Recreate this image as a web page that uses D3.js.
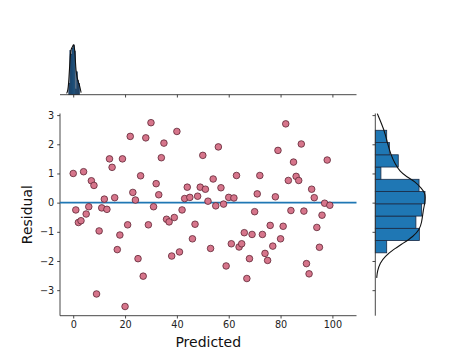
<!DOCTYPE html>
<html><head><meta charset="utf-8">
<script src="https://cdn.jsdelivr.net/npm/d3@7"></script>
<style>body{margin:0;background:#fff}svg{display:block}text{font-family:"DejaVu Sans",sans-serif}</style>
</head><body><svg id="c" width="474" height="355"></svg>
<script>
const predicted = [0,1,2,3,4,5,6,7,8,9,10,11,12,13,14,15,16,17,18,19,20,21,22,23,24,25,26,27,28,29,30,31,32,33,34,35,36,37,38,39,40,41,42,43,44,45,46,47,48,49,50,51,52,53,54,55,56,57,58,59,60,61,62,63,64,65,66,67,68,69,70,71,72,73,74,75,76,77,78,79,80,81,82,83,84,85,86,87,88,89,90,91,92,93,94,95,96,97,98,99];
const residual = [1.0,-0.25,-0.68,-0.62,1.06,-0.39,-0.14,0.75,0.59,-3.13,-0.97,-0.18,0.12,-0.23,1.5,1.21,0.17,-1.61,-1.11,1.5,-3.56,-0.76,2.27,0.35,0.09,-1.92,0.92,-2.52,2.22,-0.76,2.74,-0.14,0.65,0.27,1.54,2.04,-0.57,-0.66,-1.83,-0.51,2.44,-1.69,-0.25,0.14,0.53,0.18,-1.24,-0.74,0.22,0.53,1.62,0.46,0.05,-1.57,0.81,-0.11,1.91,0.51,-0.05,-2.17,0.18,-1.41,0.16,0.93,-1.52,-1.41,-1.03,-2.6,-1.92,-1.09,-0.31,0.3,0.93,-1.09,-1.74,-1.98,-0.78,-1.49,0.2,1.79,-1.24,-0.81,2.7,0.76,-0.27,1.39,0.9,0.76,2.01,-0.29,-2.09,-2.44,0.46,0.17,-0.85,-1.53,-0.43,-0.02,1.46,-0.09];
const binEdges = [-1.72,-1.30,-0.88,-0.46,-0.04,0.38,0.80,1.22,1.64,2.06,2.48];
const binDensity = [0.073,0.282,0.260,0.297,0.318,0.280,0.036,0.147,0.090,0.073];
const kdeValue = [-2.58,-2.35,-2.07,-1.84,-1.61,-1.39,-1.16,-0.93,-0.70,-0.25,-0.01,0.19,0.32,0.49,0.72,0.89,1.06,1.34,1.63,2.06,2.48,3.05];
const kdeDensity = [0.009,0.013,0.030,0.062,0.115,0.179,0.243,0.282,0.297,0.307,0.318,0.320,0.318,0.297,0.254,0.201,0.158,0.126,0.100,0.077,0.058,0.013];
const xTicks = [0,20,40,60,80,100];
const yTicks = [-3,-2,-1,0,1,2,3];

const svg = d3.select("#c");
const L=60, R=356.5, T=113.5, B=315.7;
const x = d3.scaleLinear().domain([-5.1,109.3]).range([L,R]);
const y = d3.scaleLinear().domain([-3.875,3.055]).range([B,T]);
const dens = d3.scaleLinear().domain([0,0.34]).range([0,53.1]);
const RX0 = 375.3, TY0 = 94.7;
const fmt = d => d<0 ? "\u2212"+Math.abs(d) : String(d);
const spine = "#333";

// main axes
const gx = svg.append("g").attr("transform",`translate(0,${B})`)
  .call(d3.axisBottom(x).tickValues(xTicks).tickSize(2.8).tickPadding(3).tickFormat(fmt));
const gy = svg.append("g").attr("transform",`translate(${L},0)`)
  .call(d3.axisLeft(y).tickValues(yTicks).tickSize(2.8).tickPadding(3).tickFormat(fmt));
[gx,gy].forEach(g=>{
  g.select(".domain").attr("stroke",spine).attr("stroke-width",0.9).attr("d", g===gx?`M${L},0H${R}`:`M0,${T}V${B}`);
  g.selectAll(".tick line").attr("stroke",spine).attr("stroke-width",0.9);
  g.selectAll(".tick text").attr("fill","#222").style("font-size","9.7px").style("font-family","DejaVu Sans");
});

svg.append("line").attr("x1",L).attr("x2",R).attr("y1",y(0)).attr("y2",y(0))
  .attr("stroke","#1f77b4").attr("stroke-width",1.8);

svg.append("g").selectAll("circle").data(predicted).join("circle")
  .attr("cx",d=>x(d)).attr("cy",(d,i)=>y(residual[i])).attr("r",3.3)
  .attr("fill","#d6758b").attr("stroke","#5e2433").attr("stroke-width",0.8);

svg.append("text").attr("x",(L+R)/2).attr("y",347).attr("text-anchor","middle")
  .style("font-size","14px").attr("fill","#111").text("Predicted");
svg.append("text").attr("transform",`translate(31.5,${(T+B)/2}) rotate(-90)`).attr("text-anchor","middle")
  .style("font-size","14px").attr("fill","#111").text("Residual");

// right marginal
const rg = svg.append("g");
rg.selectAll("rect").data(binDensity).join("rect")
  .attr("x",RX0).attr("y",(d,i)=>y(binEdges[i+1])).attr("width",d=>dens(d))
  .attr("height",(d,i)=>y(binEdges[i])-y(binEdges[i+1]))
  .attr("fill","#1f77b4").attr("stroke","#1a2a44").attr("stroke-width",0.8);
rg.append("path").datum(kdeValue).attr("fill","none").attr("stroke","#111").attr("stroke-width",1.1)
  .attr("d",d3.line().x((v,i)=>RX0+dens(kdeDensity[i])).y(v=>y(v)).curve(d3.curveBasis));
const ry = svg.append("g").attr("transform",`translate(${RX0},0)`)
  .call(d3.axisLeft(y).tickValues(yTicks).tickSize(2.8).tickFormat(""));
ry.select(".domain").attr("stroke",spine).attr("stroke-width",0.9).attr("d",`M0,${T}V${B}`);
ry.selectAll(".tick line").attr("stroke",spine).attr("stroke-width",0.9);

// top marginal
const tg = svg.append("g");
tg.selectAll("rect").data(binDensity).join("rect")
  .attr("x",(d,i)=>x(binEdges[i])).attr("y",d=>TY0-dens(d))
  .attr("width",(d,i)=>x(binEdges[i+1])-x(binEdges[i])).attr("height",d=>dens(d))
  .attr("fill","#1f77b4").attr("stroke","#1a2a44").attr("stroke-width",0.6);
tg.append("path").datum(kdeValue).attr("fill","none").attr("stroke","#111").attr("stroke-width",1.1)
  .attr("d",d3.line().x(v=>x(v)).y((v,i)=>TY0-dens(kdeDensity[i])).curve(d3.curveBasis));
const tx = svg.append("g").attr("transform",`translate(0,${TY0})`)
  .call(d3.axisBottom(x).tickValues(xTicks).tickSize(2.8).tickFormat(""));
tx.select(".domain").attr("stroke",spine).attr("stroke-width",0.9).attr("d",`M${L},0H${R}`);
tx.selectAll(".tick line").attr("stroke",spine).attr("stroke-width",0.9);
</script></body></html>
